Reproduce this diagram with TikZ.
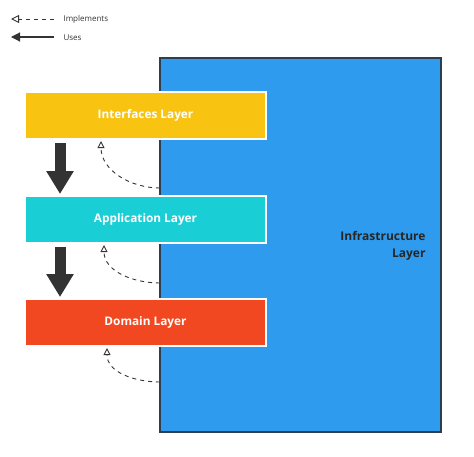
\documentclass[tikz,border=0pt]{standalone}
\usepackage{fontspec}
\setmainfont{Open Sans}
\usetikzlibrary{arrows.meta}

\definecolor{infrablue}{HTML}{2F9BEF}
\definecolor{infraedge}{HTML}{2C3E50}
\definecolor{ifyellow}{HTML}{F8C311}
\definecolor{appcyan}{HTML}{1ACED6}
\definecolor{domred}{HTML}{F24822}
\definecolor{ink}{HTML}{333333}

\begin{document}
\begin{tikzpicture}[x=1pt, y=-1pt]
		\tikzset{layer/.style={rectangle, draw=white, line width=2pt, minimum width=241pt, minimum height=47pt, text=white, font=\bfseries\fontsize{11.8}{14}\selectfont}};
		\tikzset{uses/.style={ink, line width=11pt, -{Triangle[length=23pt, width=26pt]}}};
		\tikzset{impl/.style={ink, line width=0.9pt, dash pattern=on 4pt off 4pt, -{Triangle[open, length=7pt, width=7pt]}}};
		\tikzset{legend/.style={anchor=west, text=ink, font=\fontsize{8}{9}\selectfont}};

		\useasboundingbox (0, 0) rectangle (474, 456);

		\node[rectangle, draw=infraedge, line width=1.2pt, fill=infrablue, minimum width=281pt, minimum height=374pt] (infra) at (300.5, 245) {};
		\node[anchor=east, align=right, text=black!85, font=\bfseries\fontsize{12}{17}\selectfont] (infratext) at (429, 246) {Infrastructure\\Layer};

		\node[layer, fill=ifyellow] (if) at (145.5, 115.5) {Interfaces Layer};
		\node[layer, fill=appcyan] (app) at (145.5, 219) {Application Layer};
		\node[layer, fill=domred] (dom) at (145.5, 322) {Domain Layer};

		\coordinate (i1) at (160, 188);
		\coordinate (i2) at (160, 283);
		\coordinate (i3) at (160, 382);
		\coordinate (t1) at (101, 141);
		\coordinate (t2) at (104, 245);
		\coordinate (t3) at (107, 348);

		\draw[uses] (if.south -| 60, 0) ++(0, 3) to (60, 194);
		\draw[uses] (app.south -| 60, 0) ++(0, 3) to (60, 297);

		\draw[impl] (i1) to[out=180, in=-90] (t1);
		\draw[impl] (i2) to[out=180, in=-90] (t2);
		\draw[impl] (i3) to[out=180, in=-90] (t3);

		% legend
		\coordinate (l1) at (54, 19);
		\coordinate (l1e) at (11, 19);
		\coordinate (l2) at (54, 37);
		\coordinate (l2e) at (11, 37);
		\draw[impl, -{Triangle[open, length=8pt, width=8pt]}] (l1) to (l1e);
		\draw[ink, line width=1.1pt, -{Triangle[length=9pt, width=9pt]}] (l2) to (l2e);
		\node[legend] (impltext) at (60, 19.5) {Implements};
		\node[legend] (usestext) at (60, 37.5) {Uses};
	\end{tikzpicture}
\end{document}
